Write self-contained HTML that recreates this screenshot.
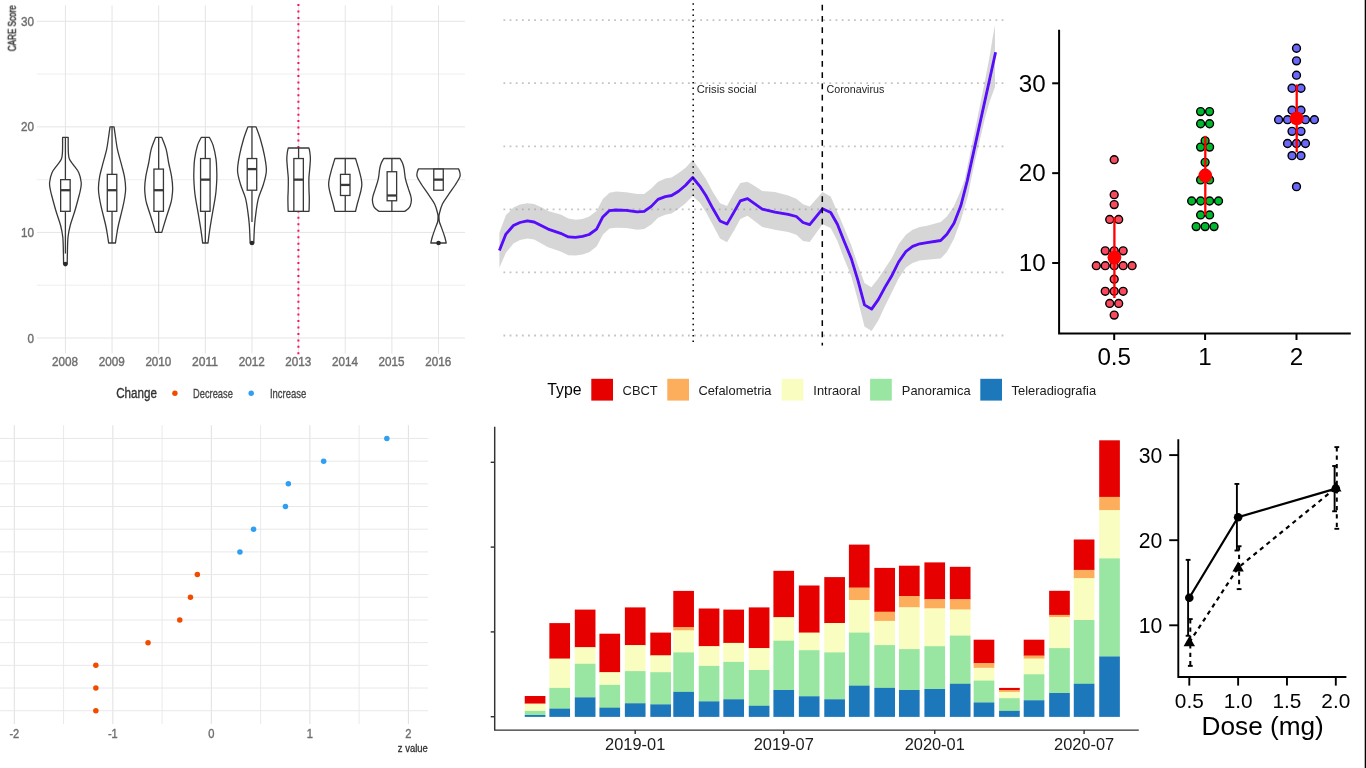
<!DOCTYPE html>
<html><head><meta charset="utf-8"><title>charts</title>
<style>html,body{margin:0;padding:0;background:#fff;overflow:hidden}svg{display:block}text{font-family:"Liberation Sans",sans-serif}</style></head>
<body>
<svg width="1366" height="768" viewBox="0 0 1366 768">
<defs><filter id="soft" x="0" y="0" width="1366" height="768" filterUnits="userSpaceOnUse"><feGaussianBlur stdDeviation="0.4"/></filter></defs>
<rect width="1366" height="768" fill="#fff"/>
<g filter="url(#soft)">
<g id="violin">
<line x1="36.90" y1="285.22" x2="465.00" y2="285.22" stroke="#ececec" stroke-width="0.9" />
<line x1="36.90" y1="179.65" x2="465.00" y2="179.65" stroke="#ececec" stroke-width="0.9" />
<line x1="36.90" y1="74.08" x2="465.00" y2="74.08" stroke="#ececec" stroke-width="0.9" />
<line x1="36.90" y1="338.00" x2="465.00" y2="338.00" stroke="#e5e5e5" stroke-width="1" />
<line x1="36.90" y1="232.43" x2="465.00" y2="232.43" stroke="#e5e5e5" stroke-width="1" />
<line x1="36.90" y1="126.87" x2="465.00" y2="126.87" stroke="#e5e5e5" stroke-width="1" />
<line x1="36.90" y1="21.30" x2="465.00" y2="21.30" stroke="#e5e5e5" stroke-width="1" />
<line x1="65.40" y1="5.30" x2="65.40" y2="353.60" stroke="#e5e5e5" stroke-width="1" />
<line x1="112.04" y1="5.30" x2="112.04" y2="353.60" stroke="#e5e5e5" stroke-width="1" />
<line x1="158.68" y1="5.30" x2="158.68" y2="353.60" stroke="#e5e5e5" stroke-width="1" />
<line x1="205.32" y1="5.30" x2="205.32" y2="353.60" stroke="#e5e5e5" stroke-width="1" />
<line x1="251.96" y1="5.30" x2="251.96" y2="353.60" stroke="#e5e5e5" stroke-width="1" />
<line x1="298.60" y1="5.30" x2="298.60" y2="353.60" stroke="#e5e5e5" stroke-width="1" />
<line x1="345.24" y1="5.30" x2="345.24" y2="353.60" stroke="#e5e5e5" stroke-width="1" />
<line x1="391.88" y1="5.30" x2="391.88" y2="353.60" stroke="#e5e5e5" stroke-width="1" />
<line x1="438.52" y1="5.30" x2="438.52" y2="353.60" stroke="#e5e5e5" stroke-width="1" />
<text x="33.90" y="342.50" font-size="12.6" fill="#6e6e6e" text-anchor="end" stroke="#6e6e6e" stroke-width="0.4" textLength="6.50" lengthAdjust="spacingAndGlyphs" >0</text>
<text x="33.90" y="236.93" font-size="12.6" fill="#6e6e6e" text-anchor="end" stroke="#6e6e6e" stroke-width="0.4" textLength="13.00" lengthAdjust="spacingAndGlyphs" >10</text>
<text x="33.90" y="131.37" font-size="12.6" fill="#6e6e6e" text-anchor="end" stroke="#6e6e6e" stroke-width="0.4" textLength="13.00" lengthAdjust="spacingAndGlyphs" >20</text>
<text x="33.90" y="25.80" font-size="12.6" fill="#6e6e6e" text-anchor="end" stroke="#6e6e6e" stroke-width="0.4" textLength="13.00" lengthAdjust="spacingAndGlyphs" >30</text>
<text x="65.10" y="365.90" font-size="12.6" fill="#6e6e6e" text-anchor="middle" stroke="#6e6e6e" stroke-width="0.4" textLength="26.00" lengthAdjust="spacingAndGlyphs" >2008</text>
<text x="111.74" y="365.90" font-size="12.6" fill="#6e6e6e" text-anchor="middle" stroke="#6e6e6e" stroke-width="0.4" textLength="26.00" lengthAdjust="spacingAndGlyphs" >2009</text>
<text x="158.38" y="365.90" font-size="12.6" fill="#6e6e6e" text-anchor="middle" stroke="#6e6e6e" stroke-width="0.4" textLength="26.00" lengthAdjust="spacingAndGlyphs" >2010</text>
<text x="205.02" y="365.90" font-size="12.6" fill="#6e6e6e" text-anchor="middle" stroke="#6e6e6e" stroke-width="0.4" textLength="26.00" lengthAdjust="spacingAndGlyphs" >2011</text>
<text x="251.66" y="365.90" font-size="12.6" fill="#6e6e6e" text-anchor="middle" stroke="#6e6e6e" stroke-width="0.4" textLength="26.00" lengthAdjust="spacingAndGlyphs" >2012</text>
<text x="298.30" y="365.90" font-size="12.6" fill="#6e6e6e" text-anchor="middle" stroke="#6e6e6e" stroke-width="0.4" textLength="26.00" lengthAdjust="spacingAndGlyphs" >2013</text>
<text x="344.94" y="365.90" font-size="12.6" fill="#6e6e6e" text-anchor="middle" stroke="#6e6e6e" stroke-width="0.4" textLength="26.00" lengthAdjust="spacingAndGlyphs" >2014</text>
<text x="391.58" y="365.90" font-size="12.6" fill="#6e6e6e" text-anchor="middle" stroke="#6e6e6e" stroke-width="0.4" textLength="26.00" lengthAdjust="spacingAndGlyphs" >2015</text>
<text x="438.22" y="365.90" font-size="12.6" fill="#6e6e6e" text-anchor="middle" stroke="#6e6e6e" stroke-width="0.4" textLength="26.00" lengthAdjust="spacingAndGlyphs" >2016</text>
<text transform="translate(15.8 51.3) rotate(-90)" font-size="10.8" fill="#333" stroke="#333" stroke-width="0.45" textLength="46" lengthAdjust="spacingAndGlyphs">CARE Score</text>
<line x1="298.40" y1="4.00" x2="298.40" y2="354.40" stroke="#ff0f55" stroke-width="2.0" stroke-dasharray="2.0 4.45"/>
<path d="M68.20 137.40C68.20 138.67 68.17 142.40 68.20 145.00C68.23 147.60 68.20 150.67 68.40 153.00C68.60 155.33 68.57 157.02 69.40 159.00C70.23 160.98 71.83 162.62 73.40 164.90C74.97 167.18 77.50 169.77 78.80 172.70C80.10 175.63 80.93 179.62 81.20 182.50C81.47 185.38 80.87 187.40 80.40 190.00C79.93 192.60 79.37 194.47 78.40 198.10C77.43 201.73 75.97 207.23 74.60 211.80C73.23 216.37 71.30 221.27 70.20 225.50C69.10 229.73 68.47 232.65 68.00 237.20C67.53 241.75 67.53 248.32 67.40 252.80C67.27 257.28 67.23 262.22 67.20 264.10L63.60 264.10C63.57 262.22 63.53 257.28 63.40 252.80C63.27 248.32 63.27 241.75 62.80 237.20C62.33 232.65 61.70 229.73 60.60 225.50C59.50 221.27 57.57 216.37 56.20 211.80C54.83 207.23 53.37 201.73 52.40 198.10C51.43 194.47 50.87 192.60 50.40 190.00C49.93 187.40 49.33 185.38 49.60 182.50C49.87 179.62 50.70 175.63 52.00 172.70C53.30 169.77 55.83 167.18 57.40 164.90C58.97 162.62 60.57 160.98 61.40 159.00C62.23 157.02 62.20 155.33 62.40 153.00C62.60 150.67 62.57 147.60 62.60 145.00C62.63 142.40 62.60 138.67 62.60 137.40Z" fill="#fff" stroke="#383838" stroke-width="1.3" stroke-linejoin="round"/>
<line x1="65.40" y1="137.42" x2="65.40" y2="179.65" stroke="#383838" stroke-width="1.3" />
<line x1="65.40" y1="211.32" x2="65.40" y2="253.55" stroke="#383838" stroke-width="1.3" />
<rect x="60.65" y="179.65" width="9.50" height="31.67" fill="#fff" stroke="#383838" stroke-width="1.3"/>
<line x1="60.65" y1="190.21" x2="70.15" y2="190.21" stroke="#383838" stroke-width="2.3" />
<circle cx="65.40" cy="264.10" r="2.3" fill="#2b2b2b"/>
<path d="M114.04 126.90C114.31 128.75 115.07 134.27 115.64 138.00C116.21 141.73 116.46 144.82 117.44 149.30C118.42 153.78 120.37 160.35 121.54 164.90C122.71 169.45 123.76 172.68 124.44 176.60C125.12 180.52 125.61 184.83 125.64 188.40C125.67 191.97 125.14 194.75 124.64 198.00C124.14 201.25 123.69 203.32 122.64 207.90C121.59 212.48 119.34 220.98 118.34 225.50C117.34 230.02 117.12 232.08 116.64 235.00C116.16 237.92 115.64 241.67 115.44 243.00L108.64 243.00C108.44 241.67 107.92 237.92 107.44 235.00C106.96 232.08 106.74 230.02 105.74 225.50C104.74 220.98 102.49 212.48 101.44 207.90C100.39 203.32 99.94 201.25 99.44 198.00C98.94 194.75 98.41 191.97 98.44 188.40C98.47 184.83 98.96 180.52 99.64 176.60C100.32 172.68 101.37 169.45 102.54 164.90C103.71 160.35 105.66 153.78 106.64 149.30C107.62 144.82 107.87 141.73 108.44 138.00C109.01 134.27 109.77 128.75 110.04 126.90Z" fill="#fff" stroke="#383838" stroke-width="1.3" stroke-linejoin="round"/>
<line x1="112.04" y1="126.87" x2="112.04" y2="174.37" stroke="#383838" stroke-width="1.3" />
<line x1="112.04" y1="211.32" x2="112.04" y2="242.99" stroke="#383838" stroke-width="1.3" />
<rect x="107.29" y="174.37" width="9.50" height="36.95" fill="#fff" stroke="#383838" stroke-width="1.3"/>
<line x1="107.29" y1="190.21" x2="116.79" y2="190.21" stroke="#383838" stroke-width="2.3" />
<path d="M161.78 137.40C162.51 139.38 165.03 145.03 166.18 149.30C167.33 153.57 167.78 158.45 168.68 163.00C169.58 167.55 170.91 172.37 171.58 176.60C172.25 180.83 172.63 184.83 172.68 188.40C172.73 191.97 172.23 195.40 171.88 198.00C171.53 200.60 171.53 200.72 170.58 204.00C169.63 207.28 167.33 214.03 166.18 217.70C165.03 221.37 164.41 223.55 163.68 226.00C162.95 228.45 162.10 231.33 161.78 232.40L155.58 232.40C155.26 231.33 154.41 228.45 153.68 226.00C152.95 223.55 152.33 221.37 151.18 217.70C150.03 214.03 147.73 207.28 146.78 204.00C145.83 200.72 145.83 200.60 145.48 198.00C145.13 195.40 144.63 191.97 144.68 188.40C144.73 184.83 145.11 180.83 145.78 176.60C146.45 172.37 147.78 167.55 148.68 163.00C149.58 158.45 150.03 153.57 151.18 149.30C152.33 145.03 154.85 139.38 155.58 137.40Z" fill="#fff" stroke="#383838" stroke-width="1.3" stroke-linejoin="round"/>
<line x1="158.68" y1="137.42" x2="158.68" y2="169.09" stroke="#383838" stroke-width="1.3" />
<line x1="158.68" y1="211.32" x2="158.68" y2="232.43" stroke="#383838" stroke-width="1.3" />
<rect x="153.93" y="169.09" width="9.50" height="42.23" fill="#fff" stroke="#383838" stroke-width="1.3"/>
<line x1="153.93" y1="190.21" x2="163.43" y2="190.21" stroke="#383838" stroke-width="2.3" />
<path d="M209.42 137.40C210.04 138.73 212.02 141.78 213.12 145.40C214.22 149.02 215.42 155.00 216.02 159.10C216.62 163.20 216.59 166.75 216.72 170.00C216.85 173.25 216.92 175.27 216.82 178.60C216.72 181.93 216.40 186.75 216.12 190.00C215.84 193.25 215.85 193.48 215.12 198.10C214.39 202.72 212.70 211.83 211.72 217.70C210.74 223.57 209.84 229.08 209.22 233.30C208.60 237.52 208.22 241.38 208.02 243.00L202.62 243.00C202.42 241.38 202.04 237.52 201.42 233.30C200.80 229.08 199.90 223.57 198.92 217.70C197.94 211.83 196.25 202.72 195.52 198.10C194.79 193.48 194.80 193.25 194.52 190.00C194.24 186.75 193.92 181.93 193.82 178.60C193.72 175.27 193.79 173.25 193.92 170.00C194.05 166.75 194.02 163.20 194.62 159.10C195.22 155.00 196.42 149.02 197.52 145.40C198.62 141.78 200.60 138.73 201.22 137.40Z" fill="#fff" stroke="#383838" stroke-width="1.3" stroke-linejoin="round"/>
<line x1="205.32" y1="137.42" x2="205.32" y2="158.54" stroke="#383838" stroke-width="1.3" />
<line x1="205.32" y1="211.32" x2="205.32" y2="242.99" stroke="#383838" stroke-width="1.3" />
<rect x="200.57" y="158.54" width="9.50" height="52.78" fill="#fff" stroke="#383838" stroke-width="1.3"/>
<line x1="200.57" y1="179.65" x2="210.07" y2="179.65" stroke="#383838" stroke-width="2.3" />
<path d="M256.06 126.90C256.79 129.00 259.08 134.78 260.46 139.50C261.84 144.22 263.38 149.98 264.36 155.20C265.34 160.42 266.53 165.92 266.36 170.80C266.19 175.68 264.68 179.95 263.36 184.50C262.04 189.05 259.68 193.55 258.46 198.10C257.24 202.65 256.71 207.23 256.06 211.80C255.41 216.37 254.94 220.30 254.56 225.50C254.18 230.70 253.89 240.08 253.76 243.00L250.16 243.00C250.03 240.08 249.74 230.70 249.36 225.50C248.98 220.30 248.51 216.37 247.86 211.80C247.21 207.23 246.68 202.65 245.46 198.10C244.24 193.55 241.88 189.05 240.56 184.50C239.24 179.95 237.73 175.68 237.56 170.80C237.39 165.92 238.58 160.42 239.56 155.20C240.54 149.98 242.08 144.22 243.46 139.50C244.84 134.78 247.13 129.00 247.86 126.90Z" fill="#fff" stroke="#383838" stroke-width="1.3" stroke-linejoin="round"/>
<line x1="251.96" y1="126.87" x2="251.96" y2="158.54" stroke="#383838" stroke-width="1.3" />
<line x1="251.96" y1="190.21" x2="251.96" y2="221.88" stroke="#383838" stroke-width="1.3" />
<rect x="247.21" y="158.54" width="9.50" height="31.67" fill="#fff" stroke="#383838" stroke-width="1.3"/>
<line x1="247.21" y1="169.09" x2="256.71" y2="169.09" stroke="#383838" stroke-width="2.3" />
<circle cx="251.96" cy="242.99" r="2.3" fill="#2b2b2b"/>
<path d="M308.90 148.00C309.05 148.67 309.55 150.15 309.80 152.00C310.05 153.85 310.43 156.10 310.40 159.10C310.37 162.10 309.85 166.75 309.60 170.00C309.35 173.25 309.00 175.27 308.90 178.60C308.80 181.93 308.93 186.75 309.00 190.00C309.07 193.25 309.27 195.43 309.30 198.10C309.33 200.77 309.25 203.80 309.20 206.00C309.15 208.20 309.03 210.42 309.00 211.30L288.20 211.30C288.17 210.42 288.05 208.20 288.00 206.00C287.95 203.80 287.87 200.77 287.90 198.10C287.93 195.43 288.13 193.25 288.20 190.00C288.27 186.75 288.40 181.93 288.30 178.60C288.20 175.27 287.85 173.25 287.60 170.00C287.35 166.75 286.83 162.10 286.80 159.10C286.77 156.10 287.15 153.85 287.40 152.00C287.65 150.15 288.15 148.67 288.30 148.00Z" fill="#fff" stroke="#383838" stroke-width="1.3" stroke-linejoin="round"/>
<line x1="298.60" y1="147.98" x2="298.60" y2="158.54" stroke="#383838" stroke-width="1.3" />
<rect x="293.85" y="158.54" width="9.50" height="52.78" fill="#fff" stroke="#383838" stroke-width="1.3"/>
<line x1="293.85" y1="179.65" x2="303.35" y2="179.65" stroke="#383838" stroke-width="2.3" />
<path d="M355.54 158.50C355.87 159.58 356.92 162.95 357.54 165.00C358.16 167.05 358.66 168.63 359.24 170.80C359.82 172.97 360.61 175.72 361.04 178.00C361.47 180.28 361.87 182.33 361.84 184.50C361.81 186.67 361.32 188.73 360.84 191.00C360.36 193.27 359.57 195.77 358.94 198.10C358.31 200.43 357.61 202.80 357.04 205.00C356.47 207.20 355.79 210.25 355.54 211.30L334.94 211.30C334.69 210.25 334.01 207.20 333.44 205.00C332.87 202.80 332.17 200.43 331.54 198.10C330.91 195.77 330.12 193.27 329.64 191.00C329.16 188.73 328.67 186.67 328.64 184.50C328.61 182.33 329.01 180.28 329.44 178.00C329.87 175.72 330.66 172.97 331.24 170.80C331.82 168.63 332.32 167.05 332.94 165.00C333.56 162.95 334.61 159.58 334.94 158.50Z" fill="#fff" stroke="#383838" stroke-width="1.3" stroke-linejoin="round"/>
<line x1="345.24" y1="158.54" x2="345.24" y2="174.37" stroke="#383838" stroke-width="1.3" />
<line x1="345.24" y1="195.49" x2="345.24" y2="211.32" stroke="#383838" stroke-width="1.3" />
<rect x="340.49" y="174.37" width="9.50" height="21.11" fill="#fff" stroke="#383838" stroke-width="1.3"/>
<line x1="340.49" y1="184.93" x2="349.99" y2="184.93" stroke="#383838" stroke-width="2.3" />
<path d="M400.08 158.50C400.48 159.25 401.81 161.28 402.48 163.00C403.15 164.72 403.60 166.20 404.08 168.80C404.56 171.40 404.68 175.33 405.38 178.60C406.08 181.87 407.43 185.67 408.28 188.40C409.13 191.13 409.96 193.05 410.48 195.00C411.00 196.95 411.43 198.28 411.38 200.10C411.33 201.92 410.76 204.42 410.18 205.90C409.60 207.38 408.76 208.10 407.88 209.00C407.00 209.90 405.38 210.92 404.88 211.30L378.88 211.30C378.38 210.92 376.76 209.90 375.88 209.00C375.00 208.10 374.16 207.38 373.58 205.90C373.00 204.42 372.43 201.92 372.38 200.10C372.33 198.28 372.76 196.95 373.28 195.00C373.80 193.05 374.63 191.13 375.48 188.40C376.33 185.67 377.68 181.87 378.38 178.60C379.08 175.33 379.20 171.40 379.68 168.80C380.16 166.20 380.61 164.72 381.28 163.00C381.95 161.28 383.28 159.25 383.68 158.50Z" fill="#fff" stroke="#383838" stroke-width="1.3" stroke-linejoin="round"/>
<line x1="391.88" y1="158.54" x2="391.88" y2="171.73" stroke="#383838" stroke-width="1.3" />
<line x1="391.88" y1="200.76" x2="391.88" y2="211.32" stroke="#383838" stroke-width="1.3" />
<rect x="387.13" y="171.73" width="9.50" height="29.03" fill="#fff" stroke="#383838" stroke-width="1.3"/>
<line x1="387.13" y1="195.49" x2="396.63" y2="195.49" stroke="#383838" stroke-width="2.3" />
<path d="M458.52 168.80C458.72 169.33 459.49 170.70 459.72 172.00C459.95 173.30 460.62 174.52 459.92 176.60C459.22 178.68 457.37 181.57 455.52 184.50C453.67 187.43 451.00 190.95 448.82 194.20C446.64 197.45 444.00 200.73 442.42 204.00C440.84 207.27 439.89 211.52 439.32 213.80C438.75 216.08 439.00 216.33 439.02 217.70C439.04 219.07 439.02 220.38 439.42 222.00C439.82 223.62 440.52 224.87 441.42 227.40C442.32 229.93 444.02 234.60 444.82 237.20C445.62 239.80 445.99 242.03 446.22 243.00L430.82 243.00C431.05 242.03 431.42 239.80 432.22 237.20C433.02 234.60 434.72 229.93 435.62 227.40C436.52 224.87 437.22 223.62 437.62 222.00C438.02 220.38 438.00 219.07 438.02 217.70C438.04 216.33 438.29 216.08 437.72 213.80C437.15 211.52 436.20 207.27 434.62 204.00C433.04 200.73 430.40 197.45 428.22 194.20C426.04 190.95 423.37 187.43 421.52 184.50C419.67 181.57 417.82 178.68 417.12 176.60C416.42 174.52 417.09 173.30 417.32 172.00C417.55 170.70 418.32 169.33 418.52 168.80Z" fill="#fff" stroke="#383838" stroke-width="1.3" stroke-linejoin="round"/>
<rect x="433.77" y="169.09" width="9.50" height="21.11" fill="#fff" stroke="#383838" stroke-width="1.3"/>
<line x1="433.77" y1="179.65" x2="443.27" y2="179.65" stroke="#383838" stroke-width="2.3" />
<circle cx="438.52" cy="242.99" r="2.3" fill="#2b2b2b"/>
<text x="116.20" y="398.20" font-size="14.9" fill="#333" text-anchor="start" stroke="#333" stroke-width="0.35" textLength="40.80" lengthAdjust="spacingAndGlyphs" >Change</text>
<circle cx="174.9" cy="393.2" r="2.7" fill="#f24b04"/>
<text x="193.00" y="397.80" font-size="13.0" fill="#444" text-anchor="start" stroke="#444" stroke-width="0.3" textLength="39.90" lengthAdjust="spacingAndGlyphs" >Decrease</text>
<circle cx="251.2" cy="393.2" r="2.7" fill="#2f9ff1"/>
<text x="269.90" y="397.80" font-size="13.0" fill="#444" text-anchor="start" stroke="#444" stroke-width="0.3" textLength="36.40" lengthAdjust="spacingAndGlyphs" >Increase</text>
</g>
<g id="scatter">
<line x1="14.30" y1="425.20" x2="14.30" y2="724.00" stroke="#e0e0e0" stroke-width="1" />
<line x1="63.56" y1="425.20" x2="63.56" y2="724.00" stroke="#eaeaea" stroke-width="1" />
<line x1="112.82" y1="425.20" x2="112.82" y2="724.00" stroke="#e0e0e0" stroke-width="1" />
<line x1="162.08" y1="425.20" x2="162.08" y2="724.00" stroke="#eaeaea" stroke-width="1" />
<line x1="211.34" y1="425.20" x2="211.34" y2="724.00" stroke="#e0e0e0" stroke-width="1" />
<line x1="260.60" y1="425.20" x2="260.60" y2="724.00" stroke="#eaeaea" stroke-width="1" />
<line x1="309.86" y1="425.20" x2="309.86" y2="724.00" stroke="#e0e0e0" stroke-width="1" />
<line x1="359.12" y1="425.20" x2="359.12" y2="724.00" stroke="#eaeaea" stroke-width="1" />
<line x1="408.38" y1="425.20" x2="408.38" y2="724.00" stroke="#e0e0e0" stroke-width="1" />
<line x1="0.00" y1="438.45" x2="428.00" y2="438.45" stroke="#e8e8e8" stroke-width="1" />
<line x1="0.00" y1="461.14" x2="428.00" y2="461.14" stroke="#e8e8e8" stroke-width="1" />
<line x1="0.00" y1="483.83" x2="428.00" y2="483.83" stroke="#e8e8e8" stroke-width="1" />
<line x1="0.00" y1="506.52" x2="428.00" y2="506.52" stroke="#e8e8e8" stroke-width="1" />
<line x1="0.00" y1="529.21" x2="428.00" y2="529.21" stroke="#e8e8e8" stroke-width="1" />
<line x1="0.00" y1="551.90" x2="428.00" y2="551.90" stroke="#e8e8e8" stroke-width="1" />
<line x1="0.00" y1="574.59" x2="428.00" y2="574.59" stroke="#e8e8e8" stroke-width="1" />
<line x1="0.00" y1="597.28" x2="428.00" y2="597.28" stroke="#e8e8e8" stroke-width="1" />
<line x1="0.00" y1="619.97" x2="428.00" y2="619.97" stroke="#e8e8e8" stroke-width="1" />
<line x1="0.00" y1="642.66" x2="428.00" y2="642.66" stroke="#e8e8e8" stroke-width="1" />
<line x1="0.00" y1="665.35" x2="428.00" y2="665.35" stroke="#e8e8e8" stroke-width="1" />
<line x1="0.00" y1="688.04" x2="428.00" y2="688.04" stroke="#e8e8e8" stroke-width="1" />
<line x1="0.00" y1="710.73" x2="428.00" y2="710.73" stroke="#e8e8e8" stroke-width="1" />
<circle cx="386.85" cy="438.45" r="2.75" fill="#2f9ff1"/>
<circle cx="323.65" cy="461.14" r="2.75" fill="#2f9ff1"/>
<circle cx="288.35" cy="483.83" r="2.75" fill="#2f9ff1"/>
<circle cx="285.45" cy="506.52" r="2.75" fill="#2f9ff1"/>
<circle cx="253.55" cy="529.21" r="2.75" fill="#2f9ff1"/>
<circle cx="239.95" cy="551.90" r="2.75" fill="#2f9ff1"/>
<circle cx="197.35" cy="574.59" r="2.75" fill="#f24b04"/>
<circle cx="190.45" cy="597.28" r="2.75" fill="#f24b04"/>
<circle cx="179.75" cy="619.97" r="2.75" fill="#f24b04"/>
<circle cx="148.05" cy="642.66" r="2.75" fill="#f24b04"/>
<circle cx="95.85" cy="665.35" r="2.75" fill="#f24b04"/>
<circle cx="95.85" cy="688.04" r="2.75" fill="#f24b04"/>
<circle cx="95.85" cy="710.73" r="2.75" fill="#f24b04"/>
<text x="14.30" y="738.20" font-size="12.6" fill="#6e6e6e" text-anchor="middle" stroke="#6e6e6e" stroke-width="0.4" textLength="9.80" lengthAdjust="spacingAndGlyphs" >-2</text>
<text x="112.82" y="738.20" font-size="12.6" fill="#6e6e6e" text-anchor="middle" stroke="#6e6e6e" stroke-width="0.4" textLength="9.80" lengthAdjust="spacingAndGlyphs" >-1</text>
<text x="211.34" y="738.20" font-size="12.6" fill="#6e6e6e" text-anchor="middle" stroke="#6e6e6e" stroke-width="0.4" textLength="6.20" lengthAdjust="spacingAndGlyphs" >0</text>
<text x="309.86" y="738.20" font-size="12.6" fill="#6e6e6e" text-anchor="middle" stroke="#6e6e6e" stroke-width="0.4" textLength="6.20" lengthAdjust="spacingAndGlyphs" >1</text>
<text x="408.38" y="738.20" font-size="12.6" fill="#6e6e6e" text-anchor="middle" stroke="#6e6e6e" stroke-width="0.4" textLength="6.20" lengthAdjust="spacingAndGlyphs" >2</text>
<text x="427.80" y="752.10" font-size="10.2" fill="#333" text-anchor="end" stroke="#333" stroke-width="0.3" textLength="30.00" lengthAdjust="spacingAndGlyphs" >z value</text>
</g>
<g id="smooth">
<line x1="499.30" y1="20.15" x2="1007.00" y2="20.15" stroke="#c4c4c4" stroke-width="1.8" stroke-dasharray="1.8 4.35" stroke-dashoffset="2.0"/>
<line x1="499.30" y1="83.22" x2="1007.00" y2="83.22" stroke="#c4c4c4" stroke-width="1.8" stroke-dasharray="1.8 4.35" stroke-dashoffset="2.0"/>
<line x1="499.30" y1="146.29" x2="1007.00" y2="146.29" stroke="#c4c4c4" stroke-width="1.8" stroke-dasharray="1.8 4.35" stroke-dashoffset="2.0"/>
<line x1="499.30" y1="209.36" x2="1007.00" y2="209.36" stroke="#c4c4c4" stroke-width="1.8" stroke-dasharray="1.8 4.35" stroke-dashoffset="2.0"/>
<line x1="499.30" y1="272.43" x2="1007.00" y2="272.43" stroke="#c4c4c4" stroke-width="1.8" stroke-dasharray="1.8 4.35" stroke-dashoffset="2.0"/>
<line x1="499.30" y1="335.50" x2="1007.00" y2="335.50" stroke="#c4c4c4" stroke-width="1.8" stroke-dasharray="1.8 4.35" stroke-dashoffset="2.0"/>
<path d="M499.4 232.5 L505.9 215.3 L513.4 207.5 L520.0 204.4 L527.3 203.3 L534.1 204.1 L541.9 207.5 L548.1 210.9 L560.6 214.5 L568.4 218.4 L575.5 219.7 L582.5 218.9 L589.2 216.6 L596.6 210.9 L602.8 198.9 L609.5 192.7 L616.1 191.6 L626.3 192.3 L637.2 193.9 L644.2 193.9 L651.3 188.4 L658.0 181.7 L665.3 178.6 L671.6 177.5 L678.6 173.1 L685.6 167.8 L692.7 160.0 L699.7 169.7 L705.9 179.1 L713.0 192.3 L720.0 203.3 L727.0 206.1 L734.1 193.1 L740.3 183.0 L747.5 181.8 L753.9 185.5 L762.3 191.0 L774.9 192.1 L788.2 195.5 L796.4 198.8 L803.0 204.3 L809.7 206.5 L822.5 192.1 L830.7 196.6 L837.4 212.1 L844.0 227.6 L851.3 245.3 L858.0 265.2 L864.5 283.0 L871.3 287.2 L878.3 278.6 L884.9 268.6 L891.5 258.6 L898.6 244.2 L905.9 234.7 L912.6 229.8 L919.7 227.0 L927.0 225.8 L940.7 222.1 L946.9 216.5 L954.0 206.1 L960.9 190.0 L964.6 180.0 L975.0 129.9 L985.6 77.5 L990.3 52.5 L992.5 38.4 L995.0 25.0 L995.0 87.0 L990.0 100.5 L985.0 118.0 L975.0 161.0 L971.3 178.5 L968.0 195.5 L960.9 219.9 L954.0 238.7 L946.9 252.0 L940.7 258.6 L927.0 259.7 L919.7 260.4 L912.6 263.1 L905.9 267.5 L898.6 278.6 L891.5 293.0 L884.9 306.2 L878.3 320.6 L871.6 331.0 L864.5 326.4 L858.0 300.7 L851.3 276.3 L844.0 258.6 L837.4 240.9 L830.7 228.0 L822.5 224.3 L809.7 242.0 L803.0 240.9 L796.4 234.7 L788.2 232.0 L774.9 229.8 L762.3 226.9 L747.5 215.8 L740.3 218.9 L734.1 230.6 L727.0 242.3 L720.0 238.4 L713.0 225.2 L705.9 211.9 L699.7 202.5 L692.7 195.9 L685.6 203.3 L678.6 208.8 L671.6 213.4 L665.3 214.7 L658.0 217.7 L651.3 224.4 L644.2 229.1 L637.2 229.8 L626.3 228.0 L616.1 227.8 L609.5 228.6 L602.8 234.8 L596.6 246.6 L589.2 252.3 L582.5 254.4 L575.5 255.5 L568.4 255.2 L560.6 251.6 L548.1 247.3 L534.1 239.5 L527.3 238.4 L520.0 240.0 L513.4 243.4 L505.9 252.8 L499.4 267.7Z" fill="#999" fill-opacity="0.4"/>
<path d="M499.4 250.5 L505.9 234.1 L513.4 225.5 L520.0 222.5 L527.3 220.9 L534.1 222.0 L548.1 229.1 L560.6 233.3 L568.4 236.9 L575.5 237.3 L582.5 236.4 L589.2 234.5 L596.6 229.1 L602.8 216.9 L609.5 210.6 L616.1 210.0 L626.3 210.3 L637.2 211.9 L644.2 211.4 L651.3 206.4 L658.0 199.4 L665.3 196.6 L671.6 195.5 L678.6 191.3 L685.6 185.3 L692.7 177.5 L699.7 186.1 L705.9 195.5 L713.0 208.8 L720.0 220.9 L727.0 224.1 L734.1 211.9 L740.3 200.9 L747.5 198.6 L762.3 209.2 L774.9 212.1 L788.2 214.3 L796.4 216.5 L803.0 222.5 L809.7 224.7 L822.5 208.8 L830.7 212.5 L837.4 224.3 L844.0 240.9 L851.3 258.6 L858.0 280.7 L864.5 304.9 L871.6 309.1 L878.3 299.6 L884.9 287.4 L891.5 276.3 L898.6 262.0 L905.9 251.5 L912.6 246.4 L919.7 243.8 L927.0 242.7 L940.7 240.5 L946.9 234.3 L954.0 223.2 L960.9 205.5 L967.2 181.1 L995.6 52.3" fill="none" stroke="#5407fc" stroke-width="2.8" stroke-linejoin="round"/>
<line x1="693.20" y1="3.30" x2="693.20" y2="343.50" stroke="#000" stroke-width="1.5" stroke-dasharray="1.5 4.12"/>
<line x1="822.30" y1="4.70" x2="822.30" y2="345.50" stroke="#000" stroke-width="1.5" stroke-dasharray="5.7 5.57"/>
<text x="696.80" y="92.90" font-size="11.0" fill="#222" text-anchor="start" textLength="59.60" lengthAdjust="spacingAndGlyphs" >Crisis social</text>
<text x="826.60" y="92.90" font-size="11.0" fill="#222" text-anchor="start" textLength="57.80" lengthAdjust="spacingAndGlyphs" >Coronavirus</text>
</g>
<g id="dotplot">
<circle cx="1114.20" cy="315.11" r="3.95" fill="#f9485c" stroke="#000" stroke-width="1.4"/>
<circle cx="1109.73" cy="303.43" r="3.95" fill="#f9485c" stroke="#000" stroke-width="1.4"/>
<circle cx="1118.67" cy="303.43" r="3.95" fill="#f9485c" stroke="#000" stroke-width="1.4"/>
<circle cx="1105.25" cy="291.30" r="3.95" fill="#f9485c" stroke="#000" stroke-width="1.4"/>
<circle cx="1114.20" cy="291.30" r="3.95" fill="#f9485c" stroke="#000" stroke-width="1.4"/>
<circle cx="1123.15" cy="291.30" r="3.95" fill="#f9485c" stroke="#000" stroke-width="1.4"/>
<circle cx="1114.20" cy="279.17" r="3.95" fill="#f9485c" stroke="#000" stroke-width="1.4"/>
<circle cx="1096.30" cy="265.70" r="3.95" fill="#f9485c" stroke="#000" stroke-width="1.4"/>
<circle cx="1105.25" cy="265.70" r="3.95" fill="#f9485c" stroke="#000" stroke-width="1.4"/>
<circle cx="1114.20" cy="265.70" r="3.95" fill="#f9485c" stroke="#000" stroke-width="1.4"/>
<circle cx="1123.15" cy="265.70" r="3.95" fill="#f9485c" stroke="#000" stroke-width="1.4"/>
<circle cx="1132.10" cy="265.70" r="3.95" fill="#f9485c" stroke="#000" stroke-width="1.4"/>
<circle cx="1105.25" cy="250.87" r="3.95" fill="#f9485c" stroke="#000" stroke-width="1.4"/>
<circle cx="1114.20" cy="250.87" r="3.95" fill="#f9485c" stroke="#000" stroke-width="1.4"/>
<circle cx="1123.15" cy="250.87" r="3.95" fill="#f9485c" stroke="#000" stroke-width="1.4"/>
<circle cx="1109.73" cy="219.42" r="3.95" fill="#f9485c" stroke="#000" stroke-width="1.4"/>
<circle cx="1118.67" cy="219.42" r="3.95" fill="#f9485c" stroke="#000" stroke-width="1.4"/>
<circle cx="1114.20" cy="204.60" r="3.95" fill="#f9485c" stroke="#000" stroke-width="1.4"/>
<circle cx="1114.20" cy="194.71" r="3.95" fill="#f9485c" stroke="#000" stroke-width="1.4"/>
<circle cx="1114.20" cy="159.67" r="3.95" fill="#f9485c" stroke="#000" stroke-width="1.4"/>
<circle cx="1196.15" cy="226.61" r="3.95" fill="#00ba2d" stroke="#000" stroke-width="1.4"/>
<circle cx="1205.10" cy="226.61" r="3.95" fill="#00ba2d" stroke="#000" stroke-width="1.4"/>
<circle cx="1214.05" cy="226.61" r="3.95" fill="#00ba2d" stroke="#000" stroke-width="1.4"/>
<circle cx="1200.62" cy="214.93" r="3.95" fill="#00ba2d" stroke="#000" stroke-width="1.4"/>
<circle cx="1209.57" cy="214.93" r="3.95" fill="#00ba2d" stroke="#000" stroke-width="1.4"/>
<circle cx="1191.67" cy="201.00" r="3.95" fill="#00ba2d" stroke="#000" stroke-width="1.4"/>
<circle cx="1200.62" cy="201.00" r="3.95" fill="#00ba2d" stroke="#000" stroke-width="1.4"/>
<circle cx="1209.57" cy="201.00" r="3.95" fill="#00ba2d" stroke="#000" stroke-width="1.4"/>
<circle cx="1218.52" cy="201.00" r="3.95" fill="#00ba2d" stroke="#000" stroke-width="1.4"/>
<circle cx="1200.62" cy="179.89" r="3.95" fill="#00ba2d" stroke="#000" stroke-width="1.4"/>
<circle cx="1209.57" cy="179.89" r="3.95" fill="#00ba2d" stroke="#000" stroke-width="1.4"/>
<circle cx="1205.10" cy="173.15" r="3.95" fill="#00ba2d" stroke="#000" stroke-width="1.4"/>
<circle cx="1205.10" cy="162.37" r="3.95" fill="#00ba2d" stroke="#000" stroke-width="1.4"/>
<circle cx="1200.62" cy="147.09" r="3.95" fill="#00ba2d" stroke="#000" stroke-width="1.4"/>
<circle cx="1209.57" cy="147.09" r="3.95" fill="#00ba2d" stroke="#000" stroke-width="1.4"/>
<circle cx="1205.10" cy="140.80" r="3.95" fill="#00ba2d" stroke="#000" stroke-width="1.4"/>
<circle cx="1200.62" cy="123.73" r="3.95" fill="#00ba2d" stroke="#000" stroke-width="1.4"/>
<circle cx="1209.57" cy="123.73" r="3.95" fill="#00ba2d" stroke="#000" stroke-width="1.4"/>
<circle cx="1200.62" cy="111.60" r="3.95" fill="#00ba2d" stroke="#000" stroke-width="1.4"/>
<circle cx="1209.57" cy="111.60" r="3.95" fill="#00ba2d" stroke="#000" stroke-width="1.4"/>
<circle cx="1296.50" cy="186.63" r="3.95" fill="#6a68f8" stroke="#000" stroke-width="1.4"/>
<circle cx="1292.03" cy="155.63" r="3.95" fill="#6a68f8" stroke="#000" stroke-width="1.4"/>
<circle cx="1300.97" cy="155.63" r="3.95" fill="#6a68f8" stroke="#000" stroke-width="1.4"/>
<circle cx="1287.55" cy="143.50" r="3.95" fill="#6a68f8" stroke="#000" stroke-width="1.4"/>
<circle cx="1296.50" cy="143.50" r="3.95" fill="#6a68f8" stroke="#000" stroke-width="1.4"/>
<circle cx="1305.45" cy="143.50" r="3.95" fill="#6a68f8" stroke="#000" stroke-width="1.4"/>
<circle cx="1292.03" cy="131.37" r="3.95" fill="#6a68f8" stroke="#000" stroke-width="1.4"/>
<circle cx="1300.97" cy="131.37" r="3.95" fill="#6a68f8" stroke="#000" stroke-width="1.4"/>
<circle cx="1278.60" cy="119.69" r="3.95" fill="#6a68f8" stroke="#000" stroke-width="1.4"/>
<circle cx="1287.55" cy="119.69" r="3.95" fill="#6a68f8" stroke="#000" stroke-width="1.4"/>
<circle cx="1296.50" cy="119.69" r="3.95" fill="#6a68f8" stroke="#000" stroke-width="1.4"/>
<circle cx="1305.45" cy="119.69" r="3.95" fill="#6a68f8" stroke="#000" stroke-width="1.4"/>
<circle cx="1314.40" cy="119.69" r="3.95" fill="#6a68f8" stroke="#000" stroke-width="1.4"/>
<circle cx="1292.03" cy="110.25" r="3.95" fill="#6a68f8" stroke="#000" stroke-width="1.4"/>
<circle cx="1300.97" cy="110.25" r="3.95" fill="#6a68f8" stroke="#000" stroke-width="1.4"/>
<circle cx="1292.03" cy="88.24" r="3.95" fill="#6a68f8" stroke="#000" stroke-width="1.4"/>
<circle cx="1300.97" cy="88.24" r="3.95" fill="#6a68f8" stroke="#000" stroke-width="1.4"/>
<circle cx="1296.50" cy="75.21" r="3.95" fill="#6a68f8" stroke="#000" stroke-width="1.4"/>
<circle cx="1296.50" cy="60.84" r="3.95" fill="#6a68f8" stroke="#000" stroke-width="1.4"/>
<circle cx="1296.50" cy="48.26" r="3.95" fill="#6a68f8" stroke="#000" stroke-width="1.4"/>
<line x1="1114.40" y1="217.13" x2="1114.40" y2="297.99" stroke="#ff0000" stroke-width="2.3" />
<circle cx="1114.40" cy="257.56" r="6.9" fill="#ff0000"/>
<line x1="1205.30" y1="135.86" x2="1205.30" y2="215.20" stroke="#ff0000" stroke-width="2.3" />
<circle cx="1205.30" cy="175.53" r="6.9" fill="#ff0000"/>
<line x1="1296.70" y1="84.43" x2="1296.70" y2="152.25" stroke="#ff0000" stroke-width="2.3" />
<circle cx="1296.70" cy="118.34" r="6.9" fill="#ff0000"/>
<path d="M1059.1 29.8V333.6H1350.8" fill="none" stroke="#000" stroke-width="2"/>
<line x1="1052.20" y1="263.00" x2="1059.10" y2="263.00" stroke="#000" stroke-width="2" />
<text x="1045.60" y="271.20" font-size="24.2" fill="#000" text-anchor="end" >10</text>
<line x1="1052.20" y1="173.15" x2="1059.10" y2="173.15" stroke="#000" stroke-width="2" />
<text x="1045.60" y="181.35" font-size="24.2" fill="#000" text-anchor="end" >20</text>
<line x1="1052.20" y1="83.30" x2="1059.10" y2="83.30" stroke="#000" stroke-width="2" />
<text x="1045.60" y="91.50" font-size="24.2" fill="#000" text-anchor="end" >30</text>
<line x1="1114.20" y1="333.60" x2="1114.20" y2="340.00" stroke="#000" stroke-width="2" />
<text x="1114.20" y="365.00" font-size="24.2" fill="#000" text-anchor="middle" >0.5</text>
<line x1="1205.10" y1="333.60" x2="1205.10" y2="340.00" stroke="#000" stroke-width="2" />
<text x="1205.10" y="365.00" font-size="24.2" fill="#000" text-anchor="middle" >1</text>
<line x1="1296.50" y1="333.60" x2="1296.50" y2="340.00" stroke="#000" stroke-width="2" />
<text x="1296.50" y="365.00" font-size="24.2" fill="#000" text-anchor="middle" >2</text>
</g>
<g id="bars">
<text x="547.30" y="395.10" font-size="15.8" fill="#000" text-anchor="start" >Type</text>
<rect x="591.3" y="378.8" width="21.7" height="21.8" fill="#e60000"/>
<text x="622.60" y="394.70" font-size="12.9" fill="#1a1a1a" text-anchor="start" >CBCT</text>
<rect x="667.3" y="378.8" width="21.7" height="21.8" fill="#fdae5c"/>
<text x="698.40" y="394.70" font-size="12.9" fill="#1a1a1a" text-anchor="start" >Cefalometria</text>
<rect x="781.7" y="378.8" width="21.7" height="21.8" fill="#f9fdbf"/>
<text x="813.30" y="394.70" font-size="12.9" fill="#1a1a1a" text-anchor="start" >Intraoral</text>
<rect x="870.1" y="378.8" width="21.7" height="21.8" fill="#98e6a2"/>
<text x="901.80" y="394.70" font-size="12.9" fill="#1a1a1a" text-anchor="start" >Panoramica</text>
<rect x="980.3" y="378.8" width="21.7" height="21.8" fill="#1f78bb"/>
<text x="1011.60" y="394.70" font-size="12.9" fill="#1a1a1a" text-anchor="start" >Teleradiografia</text>
<rect x="524.74" y="696.00" width="20.68" height="7.90" fill="#e60000"/>
<rect x="524.74" y="703.60" width="20.68" height="7.60" fill="#f9fdbf"/>
<rect x="524.74" y="710.90" width="20.68" height="4.40" fill="#98e6a2"/>
<rect x="524.74" y="715.00" width="20.68" height="1.90" fill="#1f78bb"/>
<rect x="549.36" y="623.10" width="20.68" height="35.80" fill="#e60000"/>
<rect x="549.36" y="658.60" width="20.68" height="29.60" fill="#f9fdbf"/>
<rect x="549.36" y="687.90" width="20.68" height="21.10" fill="#98e6a2"/>
<rect x="549.36" y="708.70" width="20.68" height="8.20" fill="#1f78bb"/>
<rect x="574.80" y="609.60" width="20.68" height="37.90" fill="#e60000"/>
<rect x="574.80" y="647.20" width="20.68" height="16.90" fill="#f9fdbf"/>
<rect x="574.80" y="663.80" width="20.68" height="33.90" fill="#98e6a2"/>
<rect x="574.80" y="697.40" width="20.68" height="19.50" fill="#1f78bb"/>
<rect x="599.42" y="633.70" width="20.68" height="38.80" fill="#e60000"/>
<rect x="599.42" y="672.20" width="20.68" height="13.00" fill="#f9fdbf"/>
<rect x="599.42" y="684.90" width="20.68" height="23.10" fill="#98e6a2"/>
<rect x="599.42" y="707.70" width="20.68" height="9.20" fill="#1f78bb"/>
<rect x="624.86" y="607.40" width="20.68" height="38.00" fill="#e60000"/>
<rect x="624.86" y="645.10" width="20.68" height="26.30" fill="#f9fdbf"/>
<rect x="624.86" y="671.10" width="20.68" height="32.50" fill="#98e6a2"/>
<rect x="624.86" y="703.30" width="20.68" height="13.60" fill="#1f78bb"/>
<rect x="650.30" y="632.60" width="20.68" height="23.10" fill="#e60000"/>
<rect x="650.30" y="655.40" width="20.68" height="17.10" fill="#f9fdbf"/>
<rect x="650.30" y="672.20" width="20.68" height="32.50" fill="#98e6a2"/>
<rect x="650.30" y="704.40" width="20.68" height="12.50" fill="#1f78bb"/>
<rect x="673.28" y="590.90" width="20.68" height="36.60" fill="#e60000"/>
<rect x="673.28" y="627.20" width="20.68" height="3.50" fill="#fdae5c"/>
<rect x="673.28" y="630.40" width="20.68" height="22.30" fill="#f9fdbf"/>
<rect x="673.28" y="652.40" width="20.68" height="39.80" fill="#98e6a2"/>
<rect x="673.28" y="691.90" width="20.68" height="25.00" fill="#1f78bb"/>
<rect x="698.72" y="608.50" width="20.68" height="38.00" fill="#e60000"/>
<rect x="698.72" y="646.20" width="20.68" height="20.00" fill="#f9fdbf"/>
<rect x="698.72" y="665.90" width="20.68" height="35.80" fill="#98e6a2"/>
<rect x="698.72" y="701.40" width="20.68" height="15.50" fill="#1f78bb"/>
<rect x="723.34" y="609.60" width="20.68" height="33.60" fill="#e60000"/>
<rect x="723.34" y="642.90" width="20.68" height="19.30" fill="#f9fdbf"/>
<rect x="723.34" y="661.90" width="20.68" height="37.70" fill="#98e6a2"/>
<rect x="723.34" y="699.30" width="20.68" height="17.60" fill="#1f78bb"/>
<rect x="748.78" y="607.40" width="20.68" height="41.00" fill="#e60000"/>
<rect x="748.78" y="648.10" width="20.68" height="22.20" fill="#f9fdbf"/>
<rect x="748.78" y="670.00" width="20.68" height="36.10" fill="#98e6a2"/>
<rect x="748.78" y="705.80" width="20.68" height="11.10" fill="#1f78bb"/>
<rect x="773.40" y="570.80" width="20.68" height="46.70" fill="#e60000"/>
<rect x="773.40" y="617.20" width="20.68" height="23.80" fill="#f9fdbf"/>
<rect x="773.40" y="640.70" width="20.68" height="49.60" fill="#98e6a2"/>
<rect x="773.40" y="690.00" width="20.68" height="26.90" fill="#1f78bb"/>
<rect x="798.84" y="585.50" width="20.68" height="47.40" fill="#e60000"/>
<rect x="798.84" y="632.60" width="20.68" height="17.90" fill="#f9fdbf"/>
<rect x="798.84" y="650.20" width="20.68" height="46.40" fill="#98e6a2"/>
<rect x="798.84" y="696.30" width="20.68" height="20.60" fill="#1f78bb"/>
<rect x="824.28" y="577.10" width="20.68" height="46.20" fill="#e60000"/>
<rect x="824.28" y="623.00" width="20.68" height="29.70" fill="#f9fdbf"/>
<rect x="824.28" y="652.40" width="20.68" height="47.20" fill="#98e6a2"/>
<rect x="824.28" y="699.30" width="20.68" height="17.60" fill="#1f78bb"/>
<rect x="848.90" y="544.60" width="20.68" height="43.30" fill="#e60000"/>
<rect x="848.90" y="587.60" width="20.68" height="12.70" fill="#fdae5c"/>
<rect x="848.90" y="600.00" width="20.68" height="32.90" fill="#f9fdbf"/>
<rect x="848.90" y="632.60" width="20.68" height="53.40" fill="#98e6a2"/>
<rect x="848.90" y="685.70" width="20.68" height="31.20" fill="#1f78bb"/>
<rect x="874.34" y="567.90" width="20.68" height="44.10" fill="#e60000"/>
<rect x="874.34" y="611.70" width="20.68" height="9.50" fill="#fdae5c"/>
<rect x="874.34" y="620.90" width="20.68" height="24.50" fill="#f9fdbf"/>
<rect x="874.34" y="645.10" width="20.68" height="43.10" fill="#98e6a2"/>
<rect x="874.34" y="687.90" width="20.68" height="29.00" fill="#1f78bb"/>
<rect x="898.96" y="565.70" width="20.68" height="30.60" fill="#e60000"/>
<rect x="898.96" y="596.00" width="20.68" height="11.60" fill="#fdae5c"/>
<rect x="898.96" y="607.30" width="20.68" height="42.10" fill="#f9fdbf"/>
<rect x="898.96" y="649.10" width="20.68" height="41.20" fill="#98e6a2"/>
<rect x="898.96" y="690.00" width="20.68" height="26.90" fill="#1f78bb"/>
<rect x="924.40" y="562.40" width="20.68" height="37.10" fill="#e60000"/>
<rect x="924.40" y="599.20" width="20.68" height="9.50" fill="#fdae5c"/>
<rect x="924.40" y="608.40" width="20.68" height="38.10" fill="#f9fdbf"/>
<rect x="924.40" y="646.20" width="20.68" height="43.10" fill="#98e6a2"/>
<rect x="924.40" y="689.00" width="20.68" height="27.90" fill="#1f78bb"/>
<rect x="949.84" y="566.80" width="20.68" height="32.70" fill="#e60000"/>
<rect x="949.84" y="599.20" width="20.68" height="10.60" fill="#fdae5c"/>
<rect x="949.84" y="609.50" width="20.68" height="26.40" fill="#f9fdbf"/>
<rect x="949.84" y="635.60" width="20.68" height="48.50" fill="#98e6a2"/>
<rect x="949.84" y="683.80" width="20.68" height="33.10" fill="#1f78bb"/>
<rect x="973.64" y="639.70" width="20.68" height="23.60" fill="#e60000"/>
<rect x="973.64" y="663.00" width="20.68" height="5.10" fill="#fdae5c"/>
<rect x="973.64" y="667.80" width="20.68" height="13.10" fill="#f9fdbf"/>
<rect x="973.64" y="680.60" width="20.68" height="22.20" fill="#98e6a2"/>
<rect x="973.64" y="702.50" width="20.68" height="14.40" fill="#1f78bb"/>
<rect x="999.08" y="687.90" width="20.68" height="2.40" fill="#e60000"/>
<rect x="999.08" y="690.00" width="20.68" height="2.20" fill="#fdae5c"/>
<rect x="999.08" y="691.90" width="20.68" height="6.60" fill="#f9fdbf"/>
<rect x="999.08" y="698.20" width="20.68" height="13.00" fill="#98e6a2"/>
<rect x="999.08" y="710.90" width="20.68" height="6.00" fill="#1f78bb"/>
<rect x="1023.70" y="639.70" width="20.68" height="16.20" fill="#e60000"/>
<rect x="1023.70" y="655.60" width="20.68" height="3.30" fill="#fdae5c"/>
<rect x="1023.70" y="658.60" width="20.68" height="16.00" fill="#f9fdbf"/>
<rect x="1023.70" y="674.30" width="20.68" height="26.30" fill="#98e6a2"/>
<rect x="1023.70" y="700.30" width="20.68" height="16.60" fill="#1f78bb"/>
<rect x="1049.14" y="590.80" width="20.68" height="24.40" fill="#e60000"/>
<rect x="1049.14" y="614.90" width="20.68" height="2.40" fill="#fdae5c"/>
<rect x="1049.14" y="617.00" width="20.68" height="31.40" fill="#f9fdbf"/>
<rect x="1049.14" y="648.10" width="20.68" height="45.20" fill="#98e6a2"/>
<rect x="1049.14" y="693.00" width="20.68" height="23.90" fill="#1f78bb"/>
<rect x="1073.76" y="539.50" width="20.68" height="30.70" fill="#e60000"/>
<rect x="1073.76" y="569.90" width="20.68" height="8.60" fill="#fdae5c"/>
<rect x="1073.76" y="578.20" width="20.68" height="42.10" fill="#f9fdbf"/>
<rect x="1073.76" y="620.00" width="20.68" height="64.10" fill="#98e6a2"/>
<rect x="1073.76" y="683.80" width="20.68" height="33.10" fill="#1f78bb"/>
<rect x="1099.20" y="440.30" width="20.68" height="56.90" fill="#e60000"/>
<rect x="1099.20" y="496.90" width="20.68" height="13.60" fill="#fdae5c"/>
<rect x="1099.20" y="510.20" width="20.68" height="48.50" fill="#f9fdbf"/>
<rect x="1099.20" y="558.40" width="20.68" height="98.40" fill="#98e6a2"/>
<rect x="1099.20" y="656.50" width="20.68" height="60.40" fill="#1f78bb"/>
<path d="M494.7 426.8V730.1H1138.8" fill="none" stroke="#333" stroke-width="1.45"/>
<line x1="490.70" y1="716.70" x2="494.70" y2="716.70" stroke="#333" stroke-width="1.45" />
<line x1="490.70" y1="631.90" x2="494.70" y2="631.90" stroke="#333" stroke-width="1.45" />
<line x1="490.70" y1="547.10" x2="494.70" y2="547.10" stroke="#333" stroke-width="1.45" />
<line x1="490.70" y1="462.30" x2="494.70" y2="462.30" stroke="#333" stroke-width="1.45" />
<line x1="635.20" y1="730.10" x2="635.20" y2="734.00" stroke="#333" stroke-width="1.45" />
<text x="635.20" y="750.30" font-size="16.4" fill="#1a1a1a" text-anchor="middle" >2019-01</text>
<line x1="783.74" y1="730.10" x2="783.74" y2="734.00" stroke="#333" stroke-width="1.45" />
<text x="783.74" y="750.30" font-size="16.4" fill="#1a1a1a" text-anchor="middle" >2019-07</text>
<line x1="934.74" y1="730.10" x2="934.74" y2="734.00" stroke="#333" stroke-width="1.45" />
<text x="934.74" y="750.30" font-size="16.4" fill="#1a1a1a" text-anchor="middle" >2020-01</text>
<line x1="1084.10" y1="730.10" x2="1084.10" y2="734.00" stroke="#333" stroke-width="1.45" />
<text x="1084.10" y="750.30" font-size="16.4" fill="#1a1a1a" text-anchor="middle" >2020-07</text>
</g>
<g id="lines">
<line x1="1188.10" y1="559.86" x2="1188.10" y2="635.77" stroke="#000" stroke-width="1.9" />
<line x1="1185.70" y1="559.86" x2="1190.50" y2="559.86" stroke="#000" stroke-width="1.9" />
<line x1="1185.70" y1="635.77" x2="1190.50" y2="635.77" stroke="#000" stroke-width="1.9" />
<line x1="1236.90" y1="483.95" x2="1236.90" y2="550.50" stroke="#000" stroke-width="1.9" />
<line x1="1234.50" y1="483.95" x2="1239.30" y2="483.95" stroke="#000" stroke-width="1.9" />
<line x1="1234.50" y1="550.50" x2="1239.30" y2="550.50" stroke="#000" stroke-width="1.9" />
<line x1="1334.60" y1="465.99" x2="1334.60" y2="511.27" stroke="#000" stroke-width="1.9" />
<line x1="1332.20" y1="465.99" x2="1337.00" y2="465.99" stroke="#000" stroke-width="1.9" />
<line x1="1332.20" y1="511.27" x2="1337.00" y2="511.27" stroke="#000" stroke-width="1.9" />
<line x1="1190.30" y1="619.09" x2="1190.30" y2="665.89" stroke="#000" stroke-width="2.0" stroke-dasharray="4.3 4.1"/>
<line x1="1187.90" y1="619.09" x2="1192.70" y2="619.09" stroke="#000" stroke-width="1.9" />
<line x1="1187.90" y1="665.89" x2="1192.70" y2="665.89" stroke="#000" stroke-width="1.9" />
<line x1="1239.10" y1="546.24" x2="1239.10" y2="589.13" stroke="#000" stroke-width="2.0" stroke-dasharray="4.3 4.1"/>
<line x1="1236.70" y1="546.24" x2="1241.50" y2="546.24" stroke="#000" stroke-width="1.9" />
<line x1="1236.70" y1="589.13" x2="1241.50" y2="589.13" stroke="#000" stroke-width="1.9" />
<line x1="1336.80" y1="447.10" x2="1336.80" y2="528.80" stroke="#000" stroke-width="2.0" stroke-dasharray="4.3 4.1"/>
<line x1="1334.40" y1="447.10" x2="1339.20" y2="447.10" stroke="#000" stroke-width="1.9" />
<line x1="1334.40" y1="528.80" x2="1339.20" y2="528.80" stroke="#000" stroke-width="1.9" />
<path d="M1189.3 597.8 L1238.1 517.2 L1335.8 488.6" fill="none" stroke="#000" stroke-width="2.2"/>
<path d="M1189.3 642.5 L1238.1 567.7 L1335.8 487.9" fill="none" stroke="#000" stroke-width="2.2" stroke-dasharray="4.3 4.1"/>
<circle cx="1189.3" cy="597.8" r="4.3" fill="#000"/>
<circle cx="1238.1" cy="517.2" r="4.3" fill="#000"/>
<circle cx="1335.8" cy="488.6" r="4.3" fill="#000"/>
<path d="M1189.3 636.3L1195.0 646.2H1183.6Z" fill="#000"/>
<path d="M1238.1 561.5L1243.8 571.4H1232.4Z" fill="#000"/>
<path d="M1335.8 481.7L1341.5 491.6H1330.1Z" fill="#000"/>
<path d="M1178.3 439.3V677H1346.4" fill="none" stroke="#000" stroke-width="1.9"/>
<line x1="1169.20" y1="625.30" x2="1178.30" y2="625.30" stroke="#000" stroke-width="1.9" />
<text x="1162.40" y="633.20" font-size="21.2" fill="#000" text-anchor="end" >10</text>
<line x1="1169.20" y1="540.20" x2="1178.30" y2="540.20" stroke="#000" stroke-width="1.9" />
<text x="1162.40" y="548.10" font-size="21.2" fill="#000" text-anchor="end" >20</text>
<line x1="1169.20" y1="455.10" x2="1178.30" y2="455.10" stroke="#000" stroke-width="1.9" />
<text x="1162.40" y="463.00" font-size="21.2" fill="#000" text-anchor="end" >30</text>
<line x1="1189.30" y1="677.00" x2="1189.30" y2="685.60" stroke="#000" stroke-width="1.9" />
<text x="1189.30" y="707.60" font-size="20.8" fill="#000" text-anchor="middle" >0.5</text>
<line x1="1238.13" y1="677.00" x2="1238.13" y2="685.60" stroke="#000" stroke-width="1.9" />
<text x="1238.13" y="707.60" font-size="20.8" fill="#000" text-anchor="middle" >1.0</text>
<line x1="1286.97" y1="677.00" x2="1286.97" y2="685.60" stroke="#000" stroke-width="1.9" />
<text x="1286.97" y="707.60" font-size="20.8" fill="#000" text-anchor="middle" >1.5</text>
<line x1="1335.80" y1="677.00" x2="1335.80" y2="685.60" stroke="#000" stroke-width="1.9" />
<text x="1335.80" y="707.60" font-size="20.8" fill="#000" text-anchor="middle" >2.0</text>
<text x="1262.70" y="734.90" font-size="26.2" fill="#000" text-anchor="middle" >Dose (mg)</text>
</g>
<rect x="1364.7" y="0" width="1.3" height="768" fill="#000"/>
</g>
</svg>
</body></html>
